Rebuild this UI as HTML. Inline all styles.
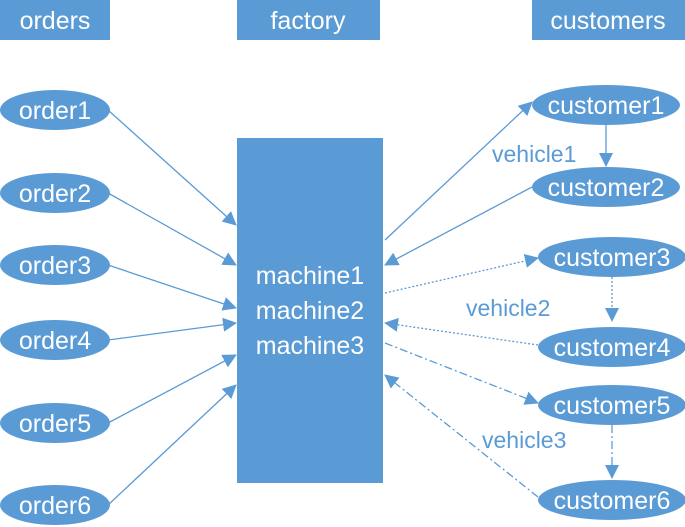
<!DOCTYPE html>
<html><head><style>body{margin:0;background:#fff}svg{display:block}text{font-family:"Liberation Sans",sans-serif}</style></head><body>
<svg width="685" height="527" viewBox="0 0 685 527">
<defs><marker id="b" markerWidth="14" markerHeight="14" refX="13" refY="7" orient="auto" markerUnits="userSpaceOnUse" viewBox="0 0 14 14"><path d="M0,0 L14,7 L0,14 z" fill="#5b9bd5"/></marker></defs>
<g fill="#5b9bd5">
<rect x="0" y="0" width="110" height="40"/><rect x="237" y="0" width="143" height="40"/><rect x="532" y="0" width="153" height="40"/>
<rect x="237" y="138" width="146" height="345"/>
<ellipse cx="55" cy="110" rx="55" ry="20"/><ellipse cx="55" cy="193" rx="55" ry="20"/><ellipse cx="55" cy="265" rx="55" ry="20"/><ellipse cx="55" cy="340" rx="55" ry="20"/><ellipse cx="55" cy="423" rx="55" ry="20"/><ellipse cx="55" cy="505" rx="55" ry="20"/>
<ellipse cx="606" cy="105" rx="74" ry="20"/><ellipse cx="606" cy="187" rx="74" ry="20"/><ellipse cx="612" cy="257" rx="74" ry="20"/><ellipse cx="612" cy="347" rx="74" ry="20"/><ellipse cx="612" cy="405" rx="74" ry="20"/><ellipse cx="612" cy="500" rx="74" ry="20"/>
</g>
<g stroke="#5b9bd5" stroke-width="1.3" fill="none" marker-end="url(#b)">
<line x1="108" y1="110" x2="236" y2="225"/><line x1="108" y1="193" x2="236" y2="265"/><line x1="108" y1="265" x2="236" y2="308"/><line x1="108" y1="340" x2="236" y2="323"/><line x1="108" y1="423" x2="236" y2="355"/><line x1="108" y1="505" x2="236" y2="385"/>
<line x1="385" y1="240" x2="532" y2="102"/><line x1="532" y1="187" x2="385" y2="265"/><line x1="606" y1="125" x2="606" y2="166"/>
<line x1="385" y1="293" x2="538" y2="258" stroke-dasharray="2,2"/><line x1="538" y1="345" x2="385" y2="323" stroke-dasharray="2,2"/><line x1="612" y1="277" x2="612" y2="321" stroke-dasharray="2,2"/>
<line x1="385" y1="343" x2="538" y2="403" stroke-dasharray="8,3,2,3"/><line x1="538" y1="497" x2="385" y2="375" stroke-dasharray="8,3,2,3"/><line x1="612" y1="425" x2="612" y2="478" stroke-dasharray="8,3,2,3"/>
</g>
<g fill="#fff" font-size="25" text-anchor="middle">
<text x="55" y="29">orders</text><text x="308" y="29">factory</text><text x="608" y="29">customers</text>
<text x="55" y="119">order1</text><text x="55" y="202">order2</text><text x="55" y="274">order3</text><text x="55" y="349">order4</text><text x="55" y="432">order5</text><text x="55" y="514">order6</text>
<text x="606" y="114">customer1</text><text x="606" y="196">customer2</text><text x="612" y="266">customer3</text><text x="612" y="356">customer4</text><text x="612" y="414">customer5</text><text x="612" y="509">customer6</text>
<text x="310" y="284">machine1</text><text x="310" y="319">machine2</text><text x="310" y="354">machine3</text>
</g>
<g fill="#5b9bd5" font-size="23">
<text x="492" y="162">vehicle1</text><text x="466" y="316">vehicle2</text><text x="482" y="448">vehicle3</text>
</g>
</svg>
</body></html>
